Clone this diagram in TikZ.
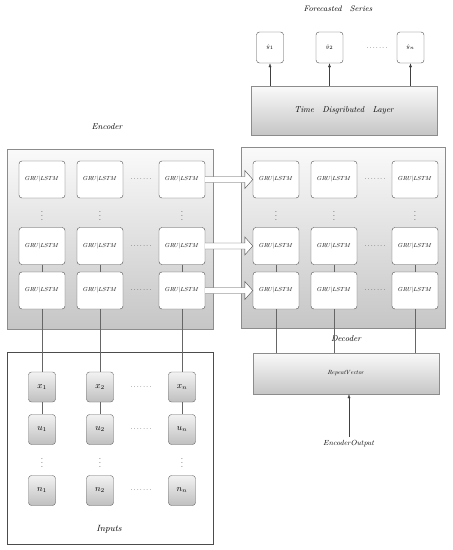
\documentclass[tikz,border=0pt]{standalone}
\usepackage{amsmath,amssymb}
\usetikzlibrary{calc,arrows.meta}

\begin{document}
\begin{tikzpicture}[x=1pt, y=1pt,
  cell/.style={draw=black!70, rounded corners=3pt, fill=white, minimum width=46pt, minimum height=37pt, inner sep=0pt},
  incell/.style={draw=black!60, rounded corners=3pt, top color=gray!10, bottom color=gray!50, minimum width=27pt, minimum height=30pt, inner sep=0pt, font=\small},
  outcell/.style={draw=black!70, rounded corners=3pt, fill=white, minimum width=27pt, minimum height=31pt, inner sep=0pt, font=\tiny},
  panel/.style={draw=black!45, top color=gray!4, bottom color=gray!45, inner sep=0pt},
  lbl/.style={font=\fontsize{8.5}{10}\selectfont\itshape},
  hdots/.style={font=\fontsize{6}{7}\selectfont, inner sep=0pt},
  vdots/.style={font=\footnotesize, inner sep=0pt},
  wire/.style={draw=black!60},
  up/.style={->, >={Latex[length=4pt,width=3pt]}, draw=black!75}
]
\def \gl {\scalebox{0.58}{$GRU|LSTM$}}
\def \hd {.\,.\,.\,.\,.\,.\,.}
\useasboundingbox (0,0) rectangle (453,-550);

% panels
\node[panel, minimum width=206pt, minimum height=180pt] (enc) at (110,-239) {};
\node[panel, minimum width=204pt, minimum height=181pt] (dec) at (343,-237.5) {};
\node[panel, minimum width=186pt, minimum height=49pt] (td) at (344,-110.5) {\scalebox{0.85}{\itshape Time\quad Disgributed\quad Layer}};
\node[panel, minimum width=186pt, minimum height=41pt] (rv) at (346,-373.5) {\scalebox{0.6}{$RepeatVector$}};
\node[draw=black!70, fill=white, minimum width=206pt, minimum height=192pt] (inp) at (110,-448) {};

% labels
\node[lbl] (encl) at (107,-127) {Encoder};
\node[lbl] (decl) at (346,-339) {Decoder};
\node[lbl, font=\fontsize{9}{10}\selectfont\itshape] (inpl) at (109,-529) {Inputs};
\node[lbl, font=\fontsize{8}{10}\selectfont\itshape] (fsl) at (338,-9) {Forecasted\quad Series};
\node (eo) at (349,-444) {\scalebox{0.74}{$EncoderOutput$}};

% encoder cells
\node[cell] at (42,-179.5) (e11) {\gl};
\node[cell] at (100,-179.5) (e12) {\gl};
\node[cell] at (182,-179.5) (e13) {\gl};
\node[cell] at (42,-246) (e21) {\gl};
\node[cell] at (100,-246) (e22) {\gl};
\node[cell] at (182,-246) (e23) {\gl};
\node[cell] at (42,-290.5) (e31) {\gl};
\node[cell] at (100,-290.5) (e32) {\gl};
\node[cell] at (182,-290.5) (e33) {\gl};

% decoder cells
\node[cell] at (276,-179.5) (d11) {\gl};
\node[cell] at (334,-179.5) (d12) {\gl};
\node[cell] at (415,-179.5) (d13) {\gl};
\node[cell] at (276,-246) (d21) {\gl};
\node[cell] at (334,-246) (d22) {\gl};
\node[cell] at (415,-246) (d23) {\gl};
\node[cell] at (276,-290.5) (d31) {\gl};
\node[cell] at (334,-290.5) (d32) {\gl};
\node[cell] at (415,-290.5) (d33) {\gl};

% input cells
\node[incell] at (42,-387) (i11) {$x_1$};
\node[incell] at (100,-387) (i12) {$x_2$};
\node[incell] at (182,-387) (i13) {$x_n$};
\node[incell] at (42,-429.5) (i21) {$u_1$};
\node[incell] at (100,-429.5) (i22) {$u_2$};
\node[incell] at (182,-429.5) (i23) {$u_n$};
\node[incell] at (42,-490.5) (i31) {$n_1$};
\node[incell] at (100,-490.5) (i32) {$n_2$};
\node[incell] at (182,-490.5) (i33) {$n_n$};

% forecast cells
\node[outcell] at (270,-47.5) (o1) {$\hat{y}_1$};
\node[outcell] at (329.5,-47.5) (o2) {$\hat{y}_2$};
\node[outcell] at (410.5,-47.5) (o3) {$\hat{y}_n$};

% dots
\node[hdots] at (141,-179.5) (eh1) {\hd};
\node[hdots] at (141,-246) (eh2) {\hd};
\node[hdots] at (141,-290.5) (eh3) {\hd};
\node[hdots] at (375,-179.5) (dh1) {\hd};
\node[hdots] at (375,-246) (dh2) {\hd};
\node[hdots] at (375,-290.5) (dh3) {\hd};
\node[hdots] at (141,-387) (ih1) {\hd};
\node[hdots] at (141,-429.5) (ih2) {\hd};
\node[hdots] at (141,-490.5) (ih3) {\hd};
\node[hdots] at (377,-48) (oh) {\hd};
\node[vdots] at (42,-213) (ev1) {$\vdots$};
\node[vdots] at (100,-213) (ev2) {$\vdots$};
\node[vdots] at (182,-213) (ev3) {$\vdots$};
\node[vdots] at (276,-213) (dv1) {$\vdots$};
\node[vdots] at (334,-213) (dv2) {$\vdots$};
\node[vdots] at (415,-213) (dv3) {$\vdots$};
\node[vdots] at (42,-460) (iv1) {$\vdots$};
\node[vdots] at (100,-460) (iv2) {$\vdots$};
\node[vdots] at (182,-460) (iv3) {$\vdots$};

% wires
\path[wire] (e21) edge (e31) (e22) edge (e32) (e23) edge (e33);
\path[wire] (d21) edge (d31) (d22) edge (d32) (d23) edge (d33);
\path[wire] (e31) edge (i11) (e32) edge (i12) (e33) edge (i13);
\path[wire] (i11) edge (i21) (i12) edge (i22) (i13) edge (i23);
\draw[wire] (d31.south) -- (d31.south |- rv.north);
\draw[wire] (d32.south) -- (d32.south |- rv.north);
\draw[wire] (d33.south) -- (d33.south |- rv.north);

\draw[up] (o1.south |- td.north) -- (o1.south);
\draw[up] (o2.south |- td.north) -- (o2.south);
\draw[up] (o3.south |- td.north) -- (o3.south);
\draw[up] (eo.north) -- (eo.north |- rv.south);

% hollow arrows encoder -> decoder
\draw[draw=black!70, fill=white] ($(e13.east)+(0,3)$) -- ($(d11.west)+(-8,3)$) -- ($(d11.west)+(-8,9)$) -- (d11.west) -- ($(d11.west)+(-8,-9)$) -- ($(d11.west)+(-8,-3)$) -- ($(e13.east)+(0,-3)$);
\draw[draw=black!70, fill=white] ($(e23.east)+(0,3)$) -- ($(d21.west)+(-8,3)$) -- ($(d21.west)+(-8,9)$) -- (d21.west) -- ($(d21.west)+(-8,-9)$) -- ($(d21.west)+(-8,-3)$) -- ($(e23.east)+(0,-3)$);
\draw[draw=black!70, fill=white] ($(e33.east)+(0,3)$) -- ($(d31.west)+(-8,3)$) -- ($(d31.west)+(-8,9)$) -- (d31.west) -- ($(d31.west)+(-8,-9)$) -- ($(d31.west)+(-8,-3)$) -- ($(e33.east)+(0,-3)$);

\end{tikzpicture}
\end{document}
